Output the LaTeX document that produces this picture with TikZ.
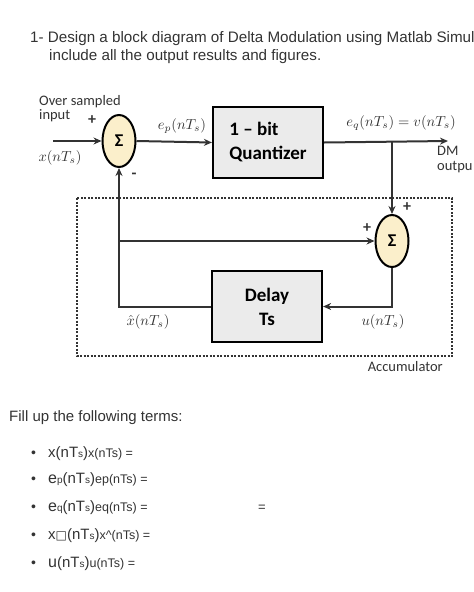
\documentclass[tikz,border=0pt]{standalone}
\usepackage{fontspec}
\setmainfont{Liberation Sans}
\newfontfamily\calib{Carlito}
\newfontfamily\symfont{DejaVu Sans}
\usetikzlibrary{shapes.geometric,arrows.meta}
\definecolor{sumfill}{HTML}{FBEFCB}
\definecolor{boxfill}{HTML}{EBEBEB}
\definecolor{ink}{HTML}{333333}
\newcommand{\fs}[1]{\fontsize{#1}{#1}\selectfont}
\newcommand{\mth}[1]{\scalebox{1.45}{$#1$}}
\begin{document}
\begin{tikzpicture}[x=1pt,y=-1pt,
  sumnode/.style={ellipse, draw=black, line width=2pt, fill=sumfill, minimum width=33pt, minimum height=52pt, inner sep=0pt, font=\calib\bfseries\fs{18}},
  blockbox/.style={rectangle, draw=black, line width=2.2pt, fill=boxfill, minimum width=110pt, minimum height=71pt, align=left, font=\calib\bfseries\fontsize{19}{24}\selectfont},
  sig/.style={draw=ink, line width=2pt, -{Stealth[length=8pt,width=7pt]}},
  lbl/.style={text=ink, inner sep=0pt},
  clbl/.style={text=ink, font=\calib\fs{14.5}, inner sep=0pt, align=left},
  sgn/.style={text=ink, font=\calib\bfseries\fs{16}, inner sep=0pt},
  item/.style={anchor=base west, inner sep=0pt, text=ink}]
\useasboundingbox (0,0) rectangle (474,592);
% question
\node[anchor=base west, inner sep=0pt, text=ink, font=\fs{15.2}] (q1) at (30,42) {1- Design a block diagram of Delta Modulation using Matlab Simul};
\node[anchor=base west, inner sep=0pt, text=ink, font=\fs{15.2}] (q2) at (49,60) {include all the output results and figures.};
% blocks
\node[sumnode] (sum1) at (119,141) {Σ};
\node[blockbox] (quant) at (268,142.5) {1 – bit\\Quantizer};
\node[sumnode] (sum2) at (392,241) {Σ};
\node[blockbox, align=center] (delay) at (267,306.5) {Delay\\Ts};
\coordinate (in) at (53,141);
\coordinate (dmout) at (448,141);
\coordinate (tap) at (392,141);
\coordinate (split) at (119,241);
% connectors
\draw[sig] (in) -- (sum1.west);
\draw[sig] (sum1.east) -- (quant.west);
\draw[sig] (quant.east) -- (dmout);
\draw[sig] (tap) -- (sum2.north);
\draw[sig] (sum2.south) |- (delay.east);
\draw[sig] (delay.west) -| (sum1.south);
\draw[sig] (split) -- (sum2.west);
\draw[ink, line width=1.3pt, dash pattern=on 2pt off 1.5pt] (77,198) rectangle (452,356);
% labels
\node[clbl, anchor=north west] (ovs) at (39,95) {Over sampled\\input};
\node[sgn] (p1) at (92,120) {+};
\node[sgn] (m1) at (134,176) {-};
\node[lbl] (xin) at (60,158) {\mth{x(nT_s)}};
\node[lbl] (ep) at (182,126) {\mth{e_p(nT_s)}};
\node[lbl] (eq) at (401,123) {\mth{e_q(nT_s)=v(nT_s)}};
\node[clbl, anchor=north west] (dm) at (437,146) {DM\\outpu};
\node[sgn] (p2) at (407,207) {+};
\node[sgn] (p3) at (367,228) {+};
\node[lbl] (xh) at (148,322) {\mth{\hat{x}(nT_s)}};
\node[lbl] (u) at (383,322) {\mth{u(nT_s)}};
\node[clbl, anchor=east] (acc) at (443,367) {Accumulator};
% terms
\node[item, font=\fs{15}] (fill) at (9,421) {Fill up the following terms:};
\foreach \yy in {457,483,511,539,567}
  \node[item, font=\fs{14}] at (31,\yy) {\textbullet};
\node[item] (t1) at (48,457) {\fs{15}x(nT\fs{10}s\fs{15})\fs{12.5}x(nTs) =};
\node[item] (t2) at (48,483) {\fs{16}e\fs{10}p\fs{15}(nT\fs{10}s\fs{15})\fs{12.5}ep(nTs) =};
\node[item] (t3) at (48,511) {\fs{16}e\fs{10}q\fs{15}(nT\fs{10}s\fs{15})\fs{12.5}eq(nTs) =};
\node[item] (t4) at (48,539) {\fs{15}x{\symfont\fs{12}□}(nT\fs{10}s\fs{15})\fs{12.5}x\^{}(nTs) =};
\node[item] (t5) at (48,567) {\fs{16}u\fs{15}(nT\fs{10}s\fs{15})\fs{12.5}u(nTs) =};
\node[item, font=\fs{13}] (eqs) at (258,511) {=};
\end{tikzpicture}
\end{document}
